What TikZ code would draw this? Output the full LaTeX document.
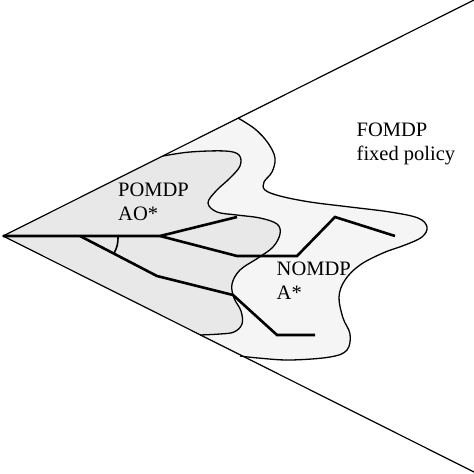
\documentclass[tikz,border=0pt]{standalone}
\usepackage{fontspec}
\setmainfont{Liberation Serif}
\usepackage{xcolor}
\usetikzlibrary{calc}
\definecolor{pogrey}{HTML}{E8E8E8}
\definecolor{nogrey}{HTML}{F5F5F5}

\begin{document}
\begin{tikzpicture}[
  x=1pt,y=-1pt,
  every node/.style={font=\fontsize{20.5}{24}\selectfont},
  cone/.style={draw=black,line width=1.2pt},
  blob/.style={draw=black,line width=1.3pt},
  branch/.style={draw=black,line width=2.6pt,line join=miter},
  lbl/.style={anchor=north west,align=left,inner sep=0pt}
]
\useasboundingbox (0,0) rectangle (474,474);

%% ---- cone ----
\coordinate (root) at (3,236);
\coordinate (top)  at (474,0);
\coordinate (bot)  at (474,472);

%% ---- NOMDP region ----
\fill[nogrey] (root) -- plot[smooth,tension=0.6] coordinates {
  (238,118) (255,129) (268,143) (275,158) (272,172) (264,182) (265,190)
  (280,196) (310,202) (350,207) (390,212) (418,218) (427,227) (422,237)
  (405,245) (383,253) (360,265) (345,280) (339,297) (343,318) (350,334)
  (347,350) (330,357) (290,360) (258,358) (240,356)} -- cycle;
\draw[blob] plot[smooth,tension=0.6] coordinates {
  (238,118) (255,129) (268,143) (275,158) (272,172) (264,182) (265,190)
  (280,196) (310,202) (350,207) (390,212) (418,218) (427,227) (422,237)
  (405,245) (383,253) (360,265) (345,280) (339,297) (343,318) (350,334)
  (347,350) (330,357) (290,360) (258,358) (240,356)};

%% ---- POMDP region ----
\fill[pogrey] (root) -- plot[smooth,tension=0.6] coordinates {
  (163,156) (190,152) (225,151) (239,155) (240,166) (230,178) (216,191)
  (208,203) (217,212) (237,215) (260,218) (277,224) (280,234) (273,247)
  (258,258) (240,270) (232,284) (234,298) (241,311) (242,324) (234,332)
  (220,334) (200,335)} -- cycle;
\draw[blob] plot[smooth,tension=0.6] coordinates {
  (163,156) (190,152) (225,151) (239,155) (240,166) (230,178) (216,191)
  (208,203) (217,212) (237,215) (260,218) (277,224) (280,234) (273,247)
  (258,258) (240,270) (232,284) (234,298) (241,311) (242,324) (234,332)
  (220,334) (200,335)};

\draw[cone] (top) -- (root) -- (bot);

%% ---- search tree ----
\coordinate (a)  at (160,236);
\coordinate (b)  at (80,236);
\coordinate (a1) at (237,217);
\coordinate (a2) at (237,256);
\coordinate (a3) at (297,256);
\coordinate (a4) at (335,217);
\coordinate (a5) at (395,236);
\coordinate (b1) at (157,276);
\coordinate (b2) at (233,295);
\coordinate (b3) at (277,335);
\coordinate (b4) at (315,335);

\draw[branch] (root) -- (a) -- (a1);
\draw[branch] (a) -- (a2) -- (a3) -- (a4) -- (a5);
\draw[branch] (b) -- (b1) -- (b2) -- (b3) -- (b4);

%% ---- and-arc ----
\coordinate (andL) at (118,236);
\coordinate (andR) at ($(b)!0.44!(b1)$);
\draw[line width=1.6pt] (andL) to[bend left=15] (andR);

%% ---- labels ----
\node[lbl] (po) at (118,182.5) {POMDP\\AO*};
\node[lbl] (no) at (276.5,261.5) {NOMDP\\A*};
\node[lbl] (fo) at (356.5,123) {FOMDP\\fixed policy};

\end{tikzpicture}
\end{document}
